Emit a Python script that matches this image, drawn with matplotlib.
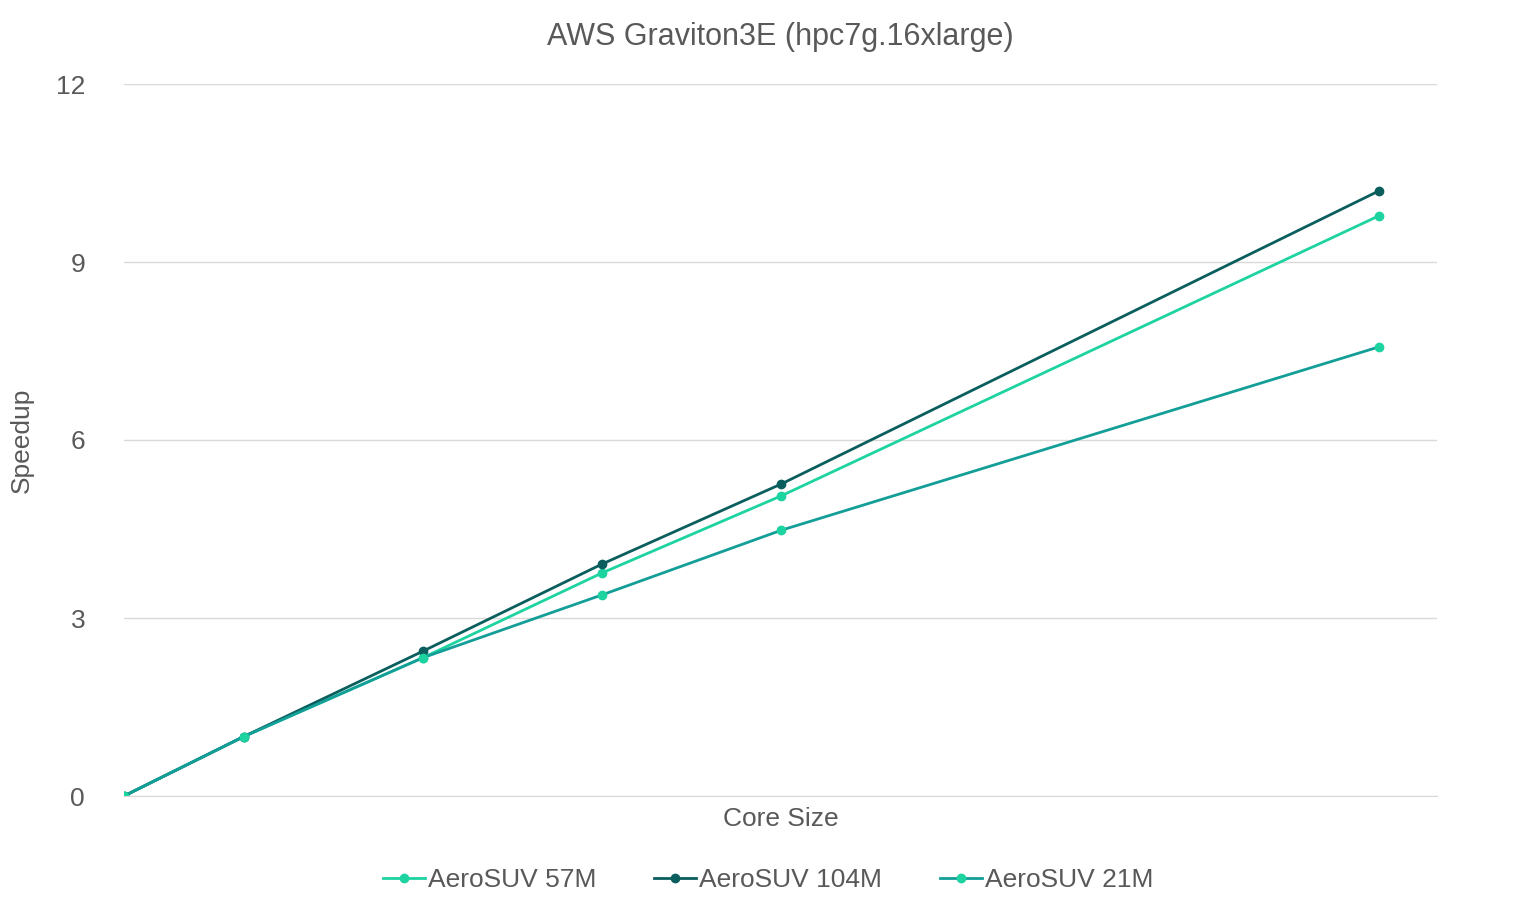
import matplotlib
matplotlib.use("Agg")
import matplotlib.pyplot as plt

cores = [0, 64, 160, 256, 352, 672]
s57 = [0, 1.0, 2.33, 3.76, 5.06, 9.78]
s104 = [0, 1.0, 2.44, 3.91, 5.26, 10.2]
s21 = [0, 1.0, 2.33, 3.39, 4.48, 7.57]

plt.rcParams['font.family'] = ['Liberation Sans', 'DejaVu Sans']
fig = plt.figure(figsize=(15.36, 9.14), dpi=100)
ax = fig.add_axes([124/1536, 1-796/914, (1437-124)/1536, (796-84)/914])

ax.plot(cores, s57, color='#1DD3A0', lw=2, marker='o', ms=6, label='AeroSUV 57M')
ax.plot(cores, s104, color='#0B5E5E', lw=2, marker='o', ms=6, label='AeroSUV 104M')
ax.plot(cores, s21, color='#139E98', lw=2, marker='o', ms=6, mfc='#1DD3A0', mec='#1DD3A0', label='AeroSUV 21M')

ax.set_xlim(0, 703)
ax.set_ylim(0, 12)
ax.set_yticks([0, 3, 6, 9, 12])
ax.set_xticks([])
ax.grid(axis='y', color='#d9d9d9', lw=1)
ax.set_axisbelow(True)
for s in ['top', 'right', 'left']:
    ax.spines[s].set_visible(False)
ax.spines['bottom'].set_color('#d9d9d9')
ax.tick_params(axis='y', length=0, labelsize=19, labelcolor='#595959', pad=28)
ax.set_xlabel('Core Size', fontsize=19, color='#595959', labelpad=8)
ax.set_ylabel('Speedup', fontsize=19, color='#595959', labelpad=16)
ax.set_title('AWS Graviton3E (hpc7g.16xlarge)', fontsize=22, color='#595959', pad=28)
fig.legend(loc='center', bbox_to_anchor=(0.5, 1-880/914), ncol=3, frameon=False,
           fontsize=19, labelcolor='#595959', handlelength=1.6, handletextpad=0.1, columnspacing=2.2)
fig.savefig('out.png')
